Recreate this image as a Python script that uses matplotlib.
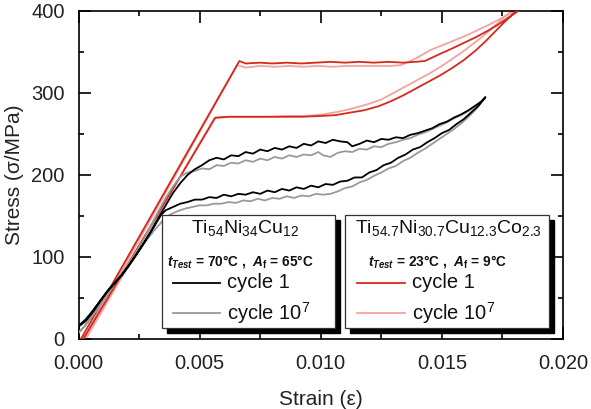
import matplotlib.pyplot as plt
from matplotlib.patches import Rectangle
from matplotlib.ticker import MultipleLocator

plt.rcParams['font.family'] = 'Liberation Sans'
plt.rcParams['mathtext.fontset'] = 'custom'
plt.rcParams['mathtext.it'] = 'Liberation Sans:italic:bold'
plt.rcParams['mathtext.rm'] = 'Liberation Sans:bold'
plt.rcParams['mathtext.bf'] = 'Liberation Sans:bold'

# --- Ti54Ni34Cu12, cycle 1 (black) ---
blk_load_e = [0.0000, 0.0003, 0.0006, 0.0009, 0.0012, 0.0015, 0.0018, 0.0021, 0.0024, 0.0027,
              0.0030, 0.0033, 0.0036, 0.0039, 0.0042, 0.0045, 0.0048, 0.0051, 0.0054, 0.0057,
              0.0060, 0.0063, 0.0066, 0.0069, 0.0072, 0.0075, 0.0078, 0.0081, 0.0084, 0.0087,
              0.0090, 0.0093, 0.0096, 0.0099, 0.0102, 0.0105, 0.0108, 0.0111, 0.0113, 0.0116,
              0.0119, 0.0122, 0.0125, 0.0128, 0.0131, 0.0134, 0.0137, 0.0140, 0.0143, 0.0146,
              0.0149, 0.0152, 0.0155, 0.0158, 0.0161, 0.0164, 0.0166, 0.0168]
blk_load_s = [15, 22, 33, 46, 58, 68, 78, 90, 103, 117,
              132, 148, 163, 178, 190, 200, 207, 212, 218, 221,
              219, 224, 223, 228, 226, 231, 229, 233, 231, 235,
              233, 238, 236, 241, 239, 243, 241, 240, 235, 238,
              242, 240, 244, 243, 246, 245, 249, 251, 254, 257,
              262, 265, 270, 274, 279, 285, 289, 295]
blk_unload_e = [0.0168, 0.0165, 0.0162, 0.0159, 0.0156, 0.0153, 0.0150, 0.0147, 0.0144, 0.0141,
                0.0138, 0.0135, 0.0132, 0.0129, 0.0126, 0.0123, 0.0120, 0.0117, 0.0114, 0.0111,
                0.0108, 0.0105, 0.0102, 0.0099, 0.0096, 0.0093, 0.0090, 0.0087, 0.0084, 0.0081,
                0.0078, 0.0075, 0.0072, 0.0069, 0.0066, 0.0063, 0.0060, 0.0057, 0.0054, 0.0051,
                0.0048, 0.0045, 0.0042, 0.0039, 0.0036, 0.0034, 0.0032, 0.0030, 0.0027, 0.0024,
                0.0021, 0.0018, 0.0015, 0.0012, 0.0009, 0.0006, 0.0003, 0.0000]
blk_unload_s = [295, 284, 276, 268, 262, 255, 251, 245, 240, 234,
                231, 225, 221, 215, 212, 206, 203, 197, 197, 193,
                192, 188, 189, 185, 187, 183, 185, 181, 183, 179,
                181, 177, 179, 176, 177, 174, 176, 172, 173, 170,
                170, 167, 165, 161, 157, 151, 141, 131, 117, 104,
                91, 79, 69, 59, 47, 35, 24, 16]

# --- Ti54Ni34Cu12, cycle 10^7 (gray) ---
gry_load_e = [0.0000, 0.0003, 0.0006, 0.0009, 0.0012, 0.0015, 0.0018, 0.0021, 0.0024, 0.0027,
              0.0030, 0.0033, 0.0036, 0.0039, 0.0042, 0.0045, 0.0048, 0.0051, 0.0054, 0.0057,
              0.0060, 0.0063, 0.0066, 0.0069, 0.0072, 0.0075, 0.0078, 0.0081, 0.0084, 0.0087,
              0.0090, 0.0093, 0.0096, 0.0099, 0.0101, 0.0104, 0.0107, 0.0110, 0.0113, 0.0116,
              0.0119, 0.0122, 0.0125, 0.0128, 0.0131, 0.0134, 0.0137, 0.0140, 0.0143, 0.0146,
              0.0149, 0.0152, 0.0155, 0.0158, 0.0161, 0.0164, 0.0167]
gry_load_s = [8, 17, 29, 42, 55, 68, 80, 93, 107, 122,
              139, 156, 172, 186, 198, 203, 205, 208, 207, 212,
              211, 215, 214, 218, 216, 220, 218, 222, 220, 224,
              222, 225, 224, 228, 224, 222, 227, 229, 228, 232,
              231, 235, 234, 238, 240, 243, 245, 249, 252, 256,
              260, 264, 269, 273, 278, 284, 291]
gry_unload_e = [0.0167, 0.0164, 0.0161, 0.0158, 0.0155, 0.0152, 0.0149, 0.0146, 0.0143, 0.0140,
                0.0137, 0.0134, 0.0131, 0.0128, 0.0125, 0.0122, 0.0119, 0.0116, 0.0113, 0.0110,
                0.0107, 0.0104, 0.0101, 0.0098, 0.0095, 0.0092, 0.0089, 0.0086, 0.0083, 0.0080,
                0.0077, 0.0074, 0.0071, 0.0068, 0.0065, 0.0062, 0.0059, 0.0056, 0.0053, 0.0050,
                0.0047, 0.0044, 0.0041, 0.0038, 0.0035, 0.0032, 0.0029, 0.0026, 0.0023, 0.0020,
                0.0017, 0.0014, 0.0011, 0.0008, 0.0005, 0.0002, 0.0000]
gry_unload_s = [291, 280, 271, 263, 256, 250, 244, 238, 232, 227,
                221, 217, 211, 208, 203, 199, 194, 191, 186, 184,
                180, 177, 176, 177, 174, 175, 172, 174, 171, 172,
                169, 171, 168, 169, 166, 167, 165, 165, 163, 163,
                161, 159, 156, 152, 145, 135, 124, 113, 101, 88,
                76, 64, 51, 38, 26, 14, 7]

# --- Ti54.7Ni30.7Cu12.3Co2.3, cycle 1 (red) ---
red_load_e = [0.0001, 0.00664, 0.0069, 0.0075, 0.0080, 0.0086, 0.0092, 0.0098, 0.0104, 0.0110,
              0.0116, 0.0122, 0.0128, 0.0134, 0.0139, 0.0143, 0.0148, 0.0154, 0.0159, 0.0164,
              0.0169, 0.0173, 0.0177, 0.0181, 0.0184]
red_load_s = [0, 339, 336, 337, 336, 337, 336, 337, 338, 337,
              338, 337, 338, 337, 338, 339, 346, 354, 361, 368,
              376, 383, 391, 399, 404]
red_unload_e = [0.0184, 0.0180, 0.0176, 0.0172, 0.0168, 0.0164, 0.0159, 0.0154, 0.0149, 0.0144,
                0.0139, 0.0134, 0.0129, 0.0124, 0.0118, 0.0112, 0.0106, 0.0100, 0.0092, 0.0084,
                0.0076, 0.0068, 0.0062, 0.00565, 0.0002]
red_unload_s = [404, 398, 387, 375, 363, 352, 340, 330, 321, 313,
                305, 297, 290, 284, 279, 276, 273, 272, 271, 271,
                271, 271, 271, 270, 0]

# --- Ti54.7Ni30.7Cu12.3Co2.3, cycle 10^7 (pink) ---
pnk_load_e = [0.0002, 0.00655, 0.0069, 0.0075, 0.0081, 0.0087, 0.0093, 0.0099, 0.0105, 0.0111,
              0.0117, 0.0123, 0.0129, 0.0133, 0.0137, 0.0141, 0.0145, 0.0150, 0.0155, 0.0160,
              0.0165, 0.0170, 0.0175, 0.0179, 0.0182]
pnk_load_s = [0, 334, 331, 333, 332, 333, 332, 333, 332, 333,
              333, 333, 333, 334, 339, 345, 352, 358, 364, 370,
              377, 384, 392, 398, 403]
pnk_unload_e = [0.0182, 0.0178, 0.0174, 0.0170, 0.0166, 0.0162, 0.0158, 0.0154, 0.0150, 0.0145,
                0.0140, 0.0135, 0.0130, 0.0125, 0.0119, 0.0113, 0.0107, 0.0101, 0.0094, 0.0086,
                0.0078, 0.0070, 0.0062, 0.0056, 0.0003]
pnk_unload_s = [403, 398, 388, 377, 367, 358, 349, 341, 333, 324,
                316, 308, 300, 292, 286, 281, 277, 274, 272, 272,
                271, 271, 271, 269, 0]

C_RED = '#d42a1c'
C_PINK = '#f2a3a3'
C_GRAY = '#9a9a9a'

fig = plt.figure(figsize=(5.91, 4.09), dpi=100)
ax = fig.add_axes([78.5 / 591, 70 / 409, 484.5 / 591, 328 / 409])

ax.plot(pnk_load_e + pnk_unload_e, pnk_load_s + pnk_unload_s, color=C_PINK, lw=1.3, zorder=2)
ax.plot(red_load_e + red_unload_e, red_load_s + red_unload_s, color=C_RED, lw=1.3, zorder=3)
ax.plot(gry_load_e + gry_unload_e, gry_load_s + gry_unload_s, color=C_GRAY, lw=1.3, zorder=4)
ax.plot(blk_load_e + blk_unload_e, blk_load_s + blk_unload_s, color='black', lw=1.3, zorder=5)

ax.set_xlim(0, 0.020)
ax.set_ylim(0, 400)
ax.xaxis.set_major_locator(MultipleLocator(0.005))
ax.xaxis.set_minor_locator(MultipleLocator(0.0025))
ax.yaxis.set_major_locator(MultipleLocator(100))
ax.yaxis.set_minor_locator(MultipleLocator(50))
ax.xaxis.set_major_formatter(plt.FuncFormatter(lambda v, p: f'{v:.3f}'))
ax.tick_params(which='both', direction='in', top=True, right=True, width=1.2, colors='black')
ax.tick_params(which='major', length=8.5)
ax.tick_params(which='minor', length=3.8)
ax.tick_params(axis='x', which='major', pad=11, labelsize=14.5, labelcolor='#222222')
ax.tick_params(axis='y', which='major', pad=10, labelsize=14.5, labelcolor='#222222')
for sp in ax.spines.values():
    sp.set_linewidth(1.2)

ax.set_xlabel('Strain (ε)', fontsize=15, labelpad=12, color='#222222')
ax.set_ylabel('Stress (σ/MPa)', fontsize=15, labelpad=5, color='#222222')

# legend boxes with drop shadow
dx, dy = 5 / 484.5, 5 / 328
boxes = [(0.172, 0.529), (0.550, 0.972)]
y0, y1 = 0.0335, 0.378
for x0, x1 in boxes:
    ax.add_patch(Rectangle((x0 + dx, y0 - dy), x1 - x0, y1 - y0, transform=ax.transAxes,
                           facecolor='black', edgecolor='black', zorder=10))
    ax.add_patch(Rectangle((x0, y0), x1 - x0, y1 - y0, transform=ax.transAxes,
                           facecolor='white', edgecolor='#333333', lw=0.9, zorder=11))

tk = dict(transform=ax.transAxes, zorder=12, color='#111111')
ax.text(0.344, 0.338, r'Ti$\mathregular{_{54}}$Ni$\mathregular{_{34}}$Cu$\mathregular{_{12}}$',
        fontsize=14, ha='center', va='center', **tk)
ax.text(0.182, 0.235, r'$\mathit{t}_{\mathit{Test}}$ = 70°C ,  $\mathit{A}_{\mathrm{f}}$ = 65°C',
        fontsize=9.8, fontweight='bold', ha='left', va='center', **tk)
ax.plot([0.195, 0.292], [0.172, 0.172], color='black', lw=1.3, transform=ax.transAxes, zorder=12)
ax.text(0.3065, 0.172, 'cycle 1', fontsize=14.5, ha='left', va='center', **tk)
ax.plot([0.195, 0.292], [0.078, 0.078], color=C_GRAY, lw=1.3, transform=ax.transAxes, zorder=12)
ax.text(0.3065, 0.078, r'cycle $\mathregular{10^7}$', fontsize=14.5, ha='left', va='center', **tk)

ax.text(0.7626, 0.338,
        r'Ti$\mathregular{_{54.7}}$Ni$\mathregular{_{30.7}}$Cu$\mathregular{_{12.3}}$Co$\mathregular{_{2.3}}$',
        fontsize=14, ha='center', va='center', **tk)
ax.text(0.5975, 0.235, r'$\mathit{t}_{\mathit{Test}}$ = 23°C ,  $\mathit{A}_{\mathrm{f}}$ = 9°C',
        fontsize=9.8, fontweight='bold', ha='left', va='center', **tk)
ax.plot([0.574, 0.674], [0.172, 0.172], color=C_RED, lw=1.3, transform=ax.transAxes, zorder=12)
ax.text(0.688, 0.172, 'cycle 1', fontsize=14.5, ha='left', va='center', **tk)
ax.plot([0.574, 0.674], [0.078, 0.078], color=C_PINK, lw=1.3, transform=ax.transAxes, zorder=12)
ax.text(0.688, 0.078, r'cycle $\mathregular{10^7}$', fontsize=14.5, ha='left', va='center', **tk)

fig.savefig('out.png', dpi=100)
